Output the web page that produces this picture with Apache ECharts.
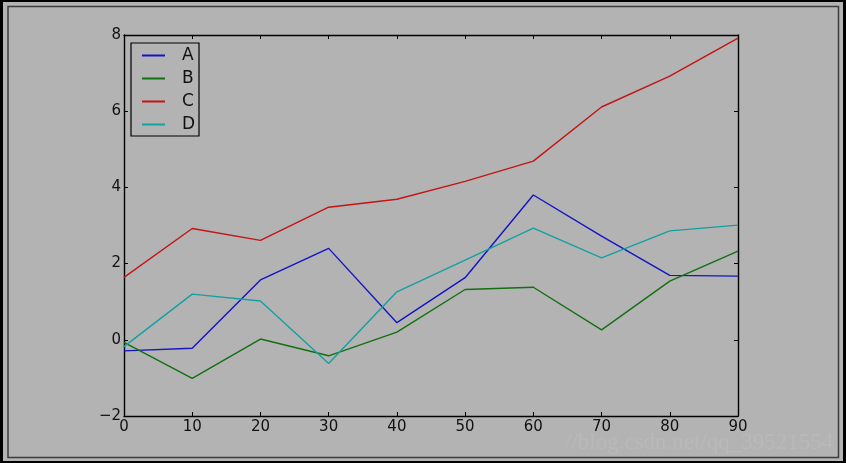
<!DOCTYPE html>
<html>
<head>
<meta charset="utf-8">
<script src="https://cdn.jsdelivr.net/npm/echarts@6/dist/echarts.min.js"></script>
<style>
html,body{margin:0;padding:0;background:#000;}
#chart{width:846px;height:463px;}
</style>
</head>
<body>
<div id="chart"></div>
<script>
const xValues = [0, 10, 20, 30, 40, 50, 60, 70, 80, 90];
const seriesA = [-0.29, -0.22, 1.57, 2.40, 0.45, 1.63, 3.80, 2.72, 1.69, 1.67];
const seriesB = [-0.07, -1.01, 0.02, -0.42, 0.20, 1.32, 1.38, 0.26, 1.54, 2.33];
const seriesC = [1.64, 2.92, 2.61, 3.48, 3.69, 4.16, 4.69, 6.11, 6.92, 7.92];
const seriesD = [-0.18, 1.20, 1.02, -0.62, 1.26, 2.09, 2.93, 2.15, 2.86, 3.01];
const seriesNames = ['A', 'B', 'C', 'D'];
const seriesColors = ['#1414c4', '#127012', '#c41414', '#14a0a0'];
const watermark = '//blog.csdn.net/qq_39521554';

const allValues = [seriesA, seriesB, seriesC, seriesD];
const fontFamily = "'DejaVu Sans', sans-serif";

const tickStyle = { show: true, inside: true, length: 4, lineStyle: { color: '#000', width: 1 } };
const lineStyleAxis = { show: true, onZero: false, lineStyle: { color: '#000', width: 1.4 } };
const minusFmt = v => String(v).replace('-', '\u2212');

const chart = echarts.init(document.getElementById('chart'), null, { renderer: 'canvas' });
chart.setOption({
  animation: false,
  backgroundColor: 'transparent',
  grid: { left: 124, top: 35, right: 108, bottom: 47 },
  xAxis: [
    { type: 'value', min: 0, max: 90, interval: 10, position: 'bottom',
      axisLine: lineStyleAxis, axisTick: tickStyle, splitLine: { show: false },
      axisLabel: { color: '#111', fontFamily, fontSize: 15, margin: 4, formatter: minusFmt } },
    { type: 'value', min: 0, max: 90, interval: 10, position: 'top',
      axisLine: lineStyleAxis, axisTick: tickStyle, splitLine: { show: false },
      axisLabel: { show: false } }
  ],
  yAxis: [
    { type: 'value', min: -2, max: 8, interval: 2, position: 'left',
      axisLine: lineStyleAxis, axisTick: tickStyle, splitLine: { show: false },
      axisLabel: { color: '#111', fontFamily, fontSize: 15, margin: 3, formatter: minusFmt } },
    { type: 'value', min: -2, max: 8, interval: 2, position: 'right',
      axisLine: lineStyleAxis, axisTick: tickStyle, splitLine: { show: false },
      axisLabel: { show: false } }
  ],
  legend: {
    data: seriesNames,
    orient: 'vertical',
    left: 142, top: 47,
    padding: 0,
    itemWidth: 23, itemHeight: 2, itemGap: 6,
    icon: 'rect',
    textStyle: { fontFamily, fontSize: 17, color: '#111', lineHeight: 17, padding: [0, 0, 0, 12] }
  },
  graphic: [
    { type: 'rect', z: -10, silent: true, shape: { x: 3, y: 2, width: 840, height: 459 },
      style: { fill: '#b3b3b3' } },
    { type: 'rect', z: -9, silent: true, shape: { x: 8, y: 6.5, width: 830.5, height: 451 },
      style: { fill: 'none', stroke: '#3c3c3c', lineWidth: 1.5 } },
    { type: 'text', z: -8, silent: true, x: 565, y: 443,
      style: { text: watermark, fill: '#b9b9b9', font: "23px 'Liberation Serif', serif", textVerticalAlign: 'middle' } },
    { type: 'rect', z: 1, silent: true, shape: { x: 131, y: 43, width: 68, height: 93 },
      style: { fill: 'none', stroke: '#000', lineWidth: 1.2 } }
  ],
  series: seriesNames.map((name, i) => ({
    name,
    type: 'line',
    showSymbol: false,
    symbol: 'none',
    color: seriesColors[i],
    lineStyle: { width: 1.4, color: seriesColors[i] },
    data: xValues.map((x, j) => [x, allValues[i][j]])
  }))
});
</script>
</body>
</html>
